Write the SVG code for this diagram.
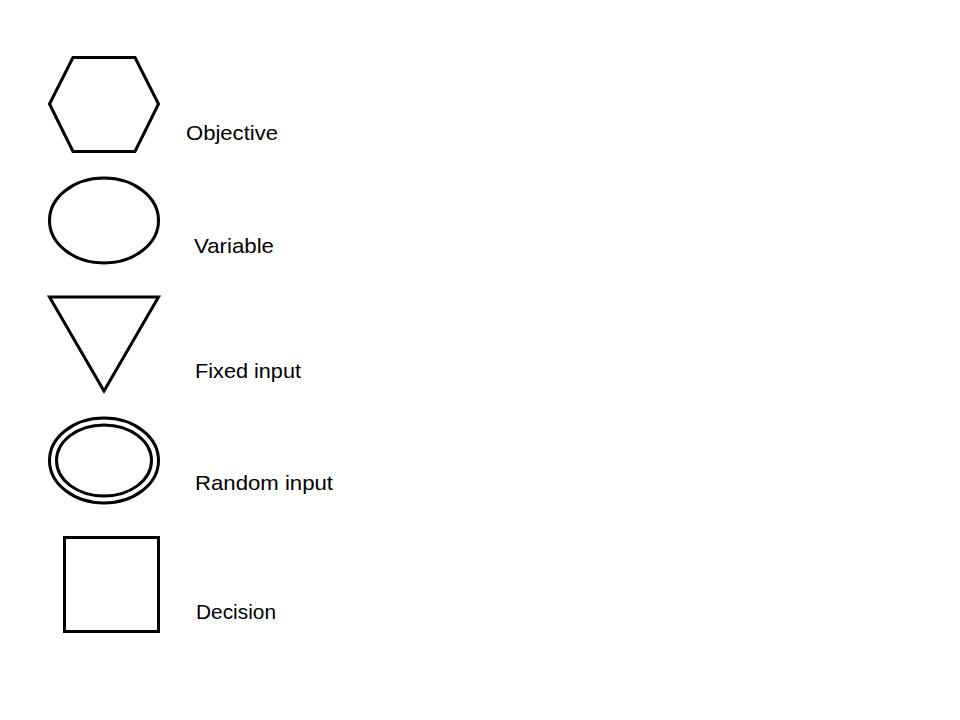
<svg xmlns="http://www.w3.org/2000/svg" width="960" height="720" viewBox="0 0 960 720">
<style>
.s{fill:#fff;stroke:#000;stroke-width:3;stroke-linejoin:miter}
.t{font-family:"Liberation Sans",Arial,sans-serif;font-size:21px;fill:#000}
</style>
<rect width="960" height="720" fill="#fff"/>
<g id="objective">
<polygon class="s" points="49.5,104 73,57.5 135,57.5 158.5,104 135,151.5 73,151.5"/>
<text class="t" x="186" y="140" textLength="92" lengthAdjust="spacingAndGlyphs">Objective</text>
</g>
<g id="variable">
<ellipse class="s" cx="104" cy="220.5" rx="54.5" ry="42.5"/>
<text class="t" x="194" y="253" textLength="80" lengthAdjust="spacingAndGlyphs">Variable</text>
</g>
<g id="fixed-input">
<polygon class="s" points="49.5,297 158.5,297 104,391"/>
<text class="t" x="195" y="378" textLength="106" lengthAdjust="spacingAndGlyphs">Fixed input</text>
</g>
<g id="random-input">
<ellipse class="s" cx="104" cy="460.5" rx="54.5" ry="42.5"/>
<ellipse class="s" cx="104" cy="460.5" rx="47.5" ry="35.5"/>
<text class="t" x="195" y="490" textLength="138" lengthAdjust="spacingAndGlyphs">Random input</text>
</g>
<g id="decision">
<rect class="s" x="64.5" y="537.5" width="94" height="94"/>
<text class="t" x="196" y="619" textLength="80" lengthAdjust="spacingAndGlyphs">Decision</text>
</g>
<g id="connectors"></g>
</svg>
